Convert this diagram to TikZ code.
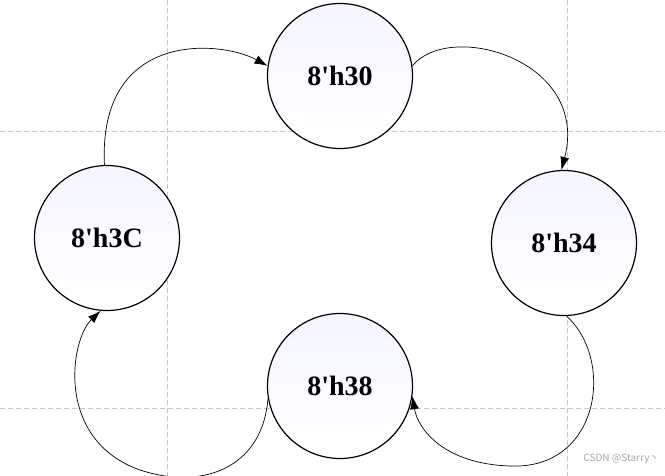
\documentclass[tikz,border=0pt]{standalone}
\usepackage{fontspec}
\usetikzlibrary{arrows.meta}
\setmainfont{Liberation Serif}
\newfontfamily\wmfont{Noto Sans CJK SC}
\begin{document}
\begin{tikzpicture}[x=1pt,y=-1pt,
  state/.style={circle,draw,line width=1.2pt,minimum size=145pt,inner sep=0pt,
    top color=blue!4,bottom color=white,font=\bfseries\fontsize{28}{30}\selectfont},
  grid/.style={gray!45,dash pattern=on 5pt off 3pt,line width=0.7pt},
  arc/.style={-{Latex[length=13pt,width=9pt]},line width=0.7pt}]
\useasboundingbox (0,0) rectangle (665,476);
\fill[white] (0,0) rectangle (665,476);
\draw[grid] (167,0) -- (167,476);
\draw[grid] (567,0) -- (567,476);
\draw[grid] (0,131) -- (665,131);
\draw[grid] (0,408) -- (665,408);
\node[state] (s30) at (340,76) {8\textquotesingle h30};
\node[state] (s34) at (564,243) {8\textquotesingle h34};
\node[state] (s38) at (340,386) {8\textquotesingle h38};
\node[state] (s3C) at (107,238) {8\textquotesingle h3C};
\draw[arc] (s3C.92) .. controls (98,30) and (220,40) .. (s30.172);
\draw[arc] (s30.8) .. controls (450,20) and (590,60) .. (s34.92);
\draw[arc] (s34.-88) .. controls (615,360) and (600,470) .. (510,466) .. controls (445,464) and (418,430) .. (s38.-8);
\draw[arc] (s38.190) .. controls (262,470) and (200,490) .. (140,470) .. controls (55,440) and (70,340) .. (s3C.-95);
\node[font=\wmfont\fontsize{10}{12}\selectfont,text=gray!70,anchor=east] (wm) at (663,459) {CSDN @Starry丶};
\end{tikzpicture}
\end{document}
